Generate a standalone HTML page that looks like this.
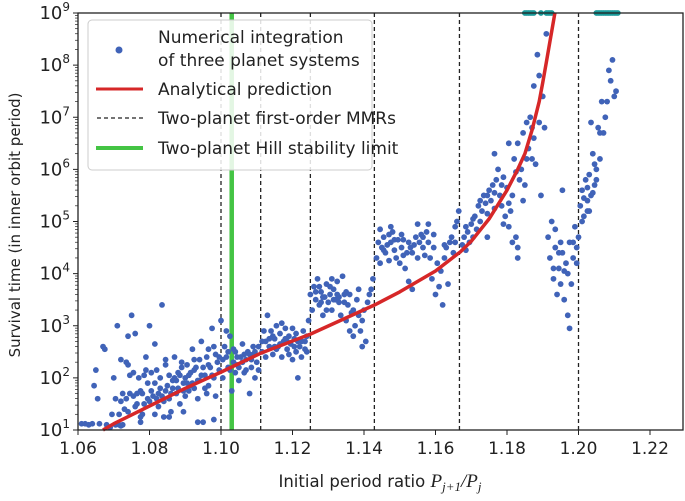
<!DOCTYPE html>
<html><head><meta charset="utf-8"><style>
body{margin:0;background:#fff;width:685px;height:496px;overflow:hidden}
svg text{font-family:"DejaVu Sans","Liberation Sans",sans-serif}
</style></head><body>
<svg id="chart" width="685" height="496" viewBox="0 0 685 496" xmlns="http://www.w3.org/2000/svg">
<g id="grid"></g>
<g id="pts"></g>
<g id="curve"></g>
<rect x="78" y="13" width="605" height="417" fill="none" stroke="#222" stroke-width="1.3"/>
<g id="axes"></g>
<text x="380" y="487" text-anchor="middle" font-size="16.5" fill="#222">Initial period ratio <tspan font-family="Liberation Serif,serif" font-style="italic" font-size="19">P</tspan><tspan font-family="Liberation Serif,serif" font-style="italic" font-size="13" dy="4">j+1</tspan><tspan font-family="Liberation Serif,serif" font-style="italic" font-size="19" dy="-4">/P</tspan><tspan font-family="Liberation Serif,serif" font-style="italic" font-size="13" dy="4">j</tspan></text>
<text transform="translate(20,225) rotate(-90)" text-anchor="middle" font-size="15" fill="#222">Survival time (in inner orbit period)</text>
<g>
<rect x="88" y="20" width="284" height="150" rx="4" fill="#fff" fill-opacity="0.85" stroke="#ccc"/>
<circle cx="119" cy="50" r="3.5" fill="#4063b8"/>
<text x="158" y="43" font-size="17" fill="#222">Numerical integration</text>
<text x="158" y="66" font-size="17" fill="#222">of three planet systems</text>
<line x1="96" y1="89" x2="143" y2="89" stroke="#d62728" stroke-width="3"/>
<text x="158" y="95" font-size="17" fill="#222">Analytical prediction</text>
<line x1="97" y1="118" x2="143" y2="118" stroke="#222" stroke-width="1.3" stroke-dasharray="4,3"/>
<text x="158" y="124" font-size="17" fill="#222">Two-planet first-order MMRs</text>
<line x1="96" y1="148" x2="143" y2="148" stroke="#44c444" stroke-width="4"/>
<text x="158" y="154" font-size="17" fill="#222">Two-planet Hill stability limit</text>
</g>
</svg>
<script>
const xTicks=[1.06,1.08,1.10,1.12,1.14,1.16,1.18,1.20,1.22];
const xTickLabels=["1.06","1.08","1.10","1.12","1.14","1.16","1.18","1.20","1.22"];
const yTicks=[1,2,3,4,5,6,7,8,9];
const mmrRatios=[1.1,1.1111,1.125,1.1429,1.1667,1.2];
const hillLimit=1.103;
const curveX=[1.067,1.07,1.08,1.09,1.10,1.111,1.125,1.143,1.15,1.16,1.167,1.17,1.175,1.18,1.183,1.185,1.187,1.189,1.19,1.191,1.192,1.1926,1.1934];
const curveLog=[1.0,1.12,1.46,1.8,2.11,2.47,2.84,3.4,3.65,4.05,4.42,4.62,5.05,5.6,6.0,6.3,6.75,7.3,7.66,8.05,8.45,8.68,9.0];
const tealX=[1.185,1.1855,1.186,1.1865,1.187,1.1875,1.1895,1.191,1.1915,1.192,1.1925,1.205,1.2055,1.206,1.2065,1.207,1.2075,1.208,1.2085,1.209,1.2095,1.21,1.2105,1.211];
const simPoints=[[1.061,1.12],[1.062,1.12],[1.063,1.1],[1.064,1.12],[1.0645,1.85],[1.065,2.15],[1.0655,1.6],[1.066,1.12],[1.067,2.6],[1.0675,2.55],[1.068,1.1],[1.069,1.05],[1.0695,1.3],[1.070,2.0],[1.0705,1.6],[1.071,3.0],[1.0715,1.3],[1.072,2.35],[1.0725,1.7],[1.073,1.4],[1.0735,2.3],[1.074,2.8],[1.0745,1.7],[1.075,3.2],[1.0755,2.1],[1.076,2.85],[1.0765,1.5],[1.077,2.0],[1.0775,1.25],[1.078,1.7],[1.0785,2.05],[1.079,2.4],[1.0795,1.9],[1.080,3.0],[1.0805,2.1],[1.081,1.65],[1.0815,2.65],[1.082,2.15],[1.0825,1.45],[1.083,2.0],[1.0835,3.4],[1.084,1.25],[1.0845,2.35],[1.085,1.85],[1.0855,2.05],[1.086,1.35],[1.0865,1.95],[1.087,2.4],[1.0875,1.7],[1.088,2.1],[1.0885,1.5],[1.089,2.3],[1.0895,1.9],[1.090,2.0],[1.0905,2.25],[1.091,1.75],[1.0915,2.1],[1.092,2.55],[1.0925,1.8],[1.093,2.2],[1.0935,1.6],[1.094,2.35],[1.0945,2.7],[1.095,1.15],[1.0955,2.05],[1.096,2.4],[1.0965,1.85],[1.097,2.2],[1.0975,2.95],[1.098,2.6],[1.0985,1.65],[1.099,2.3],[1.0995,2.15],
[1.072,1.55],[1.074,1.35],[1.076,1.45],[1.078,1.3],[1.080,1.55],[1.082,1.6],[1.084,1.55],[1.086,1.7],[1.088,1.8],[1.090,1.65],[1.092,1.9],[1.094,1.95],[1.096,1.7],[1.098,2.0],[1.083,1.8],[1.087,2.0],[1.091,2.05],[1.095,2.2],[1.0985,2.45],
[1.0705,1.1],[1.071,1.12],[1.0715,1.1],[1.072,1.08],[1.0725,1.1],[1.0735,1.6],[1.0745,2.05],[1.0755,1.65],[1.0765,1.7],[1.0775,1.75],[1.0785,1.5],[1.0795,1.6],[1.0805,1.75],[1.0815,1.9],[1.0825,1.7],[1.0835,1.65],[1.0845,1.75],[1.0855,1.6],[1.0865,1.8],[1.0875,1.95],[1.0885,2.05],[1.0895,1.75],[1.0905,1.9],[1.0915,1.85],[1.0925,2.15],[1.0935,1.95],[1.0945,2.05],[1.0955,1.8],[1.0965,2.25],[1.0975,2.05],[1.0995,2.4],[1.0775,1.15],[1.0815,1.3],[1.0855,1.25],[1.0895,1.35],[1.0935,1.15],[1.098,1.2],[1.074,2.25],[1.079,2.15],[1.0845,2.25],[1.089,2.2],[1.0925,2.35],[1.0965,2.55],
[1.1,3.1],[1.1005,2.0],[1.101,2.6],[1.1015,2.4],[1.102,2.2],[1.1025,2.8],[1.103,1.75],[1.1035,2.3],[1.104,2.5],[1.1045,2.25],[1.105,1.95],[1.1055,2.4],[1.106,2.65],[1.1065,2.1],[1.107,2.35],[1.1075,2.5],[1.108,1.7],[1.1085,2.2],[1.109,2.45],[1.1095,2.0],[1.110,2.3],[1.1105,2.6],[1.1015,2.9],[1.1035,2.55],[1.106,2.3],[1.108,2.45],[1.104,2.1],[1.109,2.6],
[1.1005,2.35],[1.1025,2.15],[1.1045,2.4],[1.1065,2.45],[1.1085,2.35],[1.1105,2.15],[1.102,2.5],[1.105,2.2],[1.107,2.15],[1.1095,2.5],
[1.1115,2.5],[1.112,2.9],[1.1125,2.7],[1.113,3.2],[1.1135,2.6],[1.114,2.9],[1.1145,2.45],[1.115,2.75],[1.1155,3.0],[1.116,2.6],[1.1165,2.85],[1.117,2.4],[1.1175,2.7],[1.118,2.95],[1.1185,2.55],[1.119,2.8],[1.1195,2.65],[1.120,2.35],[1.1205,2.75],[1.121,2.5],[1.1215,2.0],[1.122,2.6],[1.1225,2.4],[1.123,2.9],[1.1235,2.7],[1.124,2.5],[1.1245,3.1],[1.1125,2.4],[1.1145,2.8],[1.117,3.05],[1.12,2.95],[1.1225,2.7],[1.1155,2.55],[1.119,2.45],[1.121,2.85],
[1.1135,2.75],[1.1165,2.65],[1.1185,2.7],[1.1205,2.6],[1.1235,2.55],[1.1115,2.7],[1.115,2.6],[1.118,2.75],[1.1215,2.7],[1.124,2.8],
[1.125,3.6],[1.1255,3.3],[1.126,3.75],[1.1265,3.5],[1.127,3.9],[1.1275,3.4],[1.128,3.65],[1.1285,3.2],[1.129,3.55],[1.1295,3.8],[1.130,3.45],[1.1305,3.6],[1.131,3.3],[1.1315,3.7],[1.132,3.5],[1.1325,3.85],[1.133,3.55],[1.1335,3.2],[1.134,3.95],[1.1345,3.6],[1.135,3.1],[1.1355,3.4],[1.136,2.9],[1.1365,3.25],[1.137,2.8],[1.1375,3.0],[1.138,3.5],[1.1385,3.2],[1.139,2.9],[1.1395,2.6],[1.140,3.3],[1.1405,2.7],[1.141,3.45],[1.1415,3.6],[1.142,3.7],[1.1425,3.9],[1.1275,3.75],[1.131,3.9],[1.133,3.45],[1.136,3.6],[1.1385,3.7],[1.1295,3.3],
[1.1265,3.65],[1.1285,3.55],[1.1305,3.75],[1.1325,3.6],[1.1345,3.45],[1.137,3.3],[1.1395,3.1],[1.128,3.45],[1.1315,3.5],[1.135,3.65],
[1.1435,4.3],[1.144,4.6],[1.1445,4.2],[1.145,4.5],[1.1455,4.7],[1.146,4.4],[1.1465,4.55],[1.147,4.25],[1.1475,4.6],[1.148,4.8],[1.1485,4.45],[1.149,4.3],[1.1495,4.65],[1.150,4.2],[1.1505,4.5],[1.151,4.35],[1.1515,4.1],[1.152,4.4],[1.1525,3.85],[1.153,4.5],[1.1535,3.7],[1.154,4.55],[1.1545,4.7],[1.155,4.3],[1.1555,4.6],[1.156,4.75],[1.1565,4.5],[1.157,4.35],[1.1575,4.8],[1.158,4.6],[1.1585,4.3],[1.159,3.9],[1.1595,4.5],[1.160,3.6],[1.1605,4.2],[1.161,3.75],[1.1615,4.05],[1.162,3.4],[1.1625,4.3],[1.163,4.5],[1.1635,3.8],[1.164,4.6],[1.1645,4.7],[1.165,4.4],[1.1655,4.9],[1.166,5.0],[1.1665,5.2],[1.1445,4.85],[1.1475,4.9],[1.151,4.65],[1.155,4.95],[1.158,4.95],
[1.1455,4.45],[1.1485,4.65],[1.1505,4.75],[1.1535,4.4],[1.1565,4.7],[1.1595,4.75],[1.1625,4.55],[1.1655,4.6],[1.147,4.75],[1.1525,4.6],
[1.1675,4.55],[1.168,4.7],[1.1685,4.45],[1.169,4.8],[1.1695,4.6],[1.170,4.95],[1.1705,4.7],[1.171,5.1],[1.1715,4.85],[1.172,5.3],[1.1725,5.0],[1.173,5.2],[1.1735,5.5],[1.174,5.35],[1.1745,5.15],[1.175,5.6],[1.1755,5.4],[1.176,5.7],[1.1765,5.25],[1.177,5.8],[1.1775,6.0],[1.178,5.5],[1.1785,5.3],[1.179,5.85],[1.1795,5.1],[1.180,5.65],[1.1805,4.9],[1.181,5.2],[1.1815,5.5],[1.182,6.2],[1.1825,4.7],[1.183,4.5],[1.183,6.5],[1.1835,5.8],[1.184,6.0],[1.1845,6.7],[1.185,5.7],[1.1855,6.9],[1.186,6.4],[1.1865,7.0],[1.187,6.2],[1.1875,7.6],[1.188,6.1],[1.1885,8.2],[1.189,6.9],[1.1895,5.5],[1.190,7.4],[1.1905,6.8],[1.191,8.6],[1.1765,6.3],[1.1745,4.7],[1.1805,6.5],[1.1845,5.4],[1.187,6.8],[1.189,7.8],[1.179,4.95],[1.1815,4.6],[1.183,4.3],
[1.1685,4.9],[1.1705,5.05],[1.1725,5.4],[1.1745,5.5],[1.1765,5.55],[1.1785,5.7],[1.1805,5.35],[1.1825,5.95],[1.1855,6.2],[1.1875,6.6],
[1.1915,4.7],[1.192,4.3],[1.1925,5.0],[1.193,3.9],[1.1935,4.5],[1.194,3.6],[1.1945,4.1],[1.195,3.8],[1.1955,4.4],[1.196,3.5],[1.1965,4.2],[1.197,3.2],[1.1975,4.6],[1.198,3.8],[1.1985,4.3],[1.199,4.9],[1.1995,4.5],[1.2,4.7],[1.193,4.1],[1.195,4.6],[1.197,4.0],[1.1975,2.95],[1.1955,5.6],[1.1935,4.85],
[1.196,4.05],[1.1985,4.6],[1.1995,4.2],[1.1945,4.4],
[1.2005,5.3],[1.201,5.6],[1.2015,5.1],[1.202,5.8],[1.2025,5.4],[1.203,5.9],[1.2035,5.5],[1.204,6.3],[1.2045,5.7],[1.205,6.0],[1.2055,6.8],[1.206,6.2],[1.2065,7.3],[1.207,6.7],[1.2075,7.0],[1.208,7.3],[1.2085,7.9],[1.209,7.7],[1.2095,8.1],[1.210,7.4],[1.2105,7.5],[1.201,5.0],[1.203,5.2],[1.2045,6.1],[1.206,6.7],[1.2035,6.9],
[1.2015,5.45],[1.2025,5.65],[1.204,5.55],[1.205,5.8],[1.2025,5.2]];

const NS='http://www.w3.org/2000/svg';
const X0=78,X1=683,Y0=430,Y1=13;
function sx(v){return X0+(v-1.06)/(0.16)*572;}
function sy(l){return Y0-(l-1)/8*(Y0-Y1);}
function mk(tag,attrs,parent){const e=document.createElementNS(NS,tag);for(const k in attrs)e.setAttribute(k,attrs[k]);parent.appendChild(e);return e;}
const grid=document.getElementById('grid'),pts=document.getElementById('pts'),curve=document.getElementById('curve'),axes=document.getElementById('axes');
mmrRatios.forEach(r=>{const l=mk('line',{x1:sx(r),x2:sx(r),y1:Y1,y2:Y0,stroke:'#222','stroke-width':1.3,'stroke-dasharray':'4,3'},grid);

});
const h=mk('line',{x1:sx(hillLimit),x2:sx(hillLimit),y1:Y1,y2:Y0,stroke:'#44c444','stroke-width':4.5},grid);


simPoints.forEach(p=>{const c=mk('circle',{cx:sx(p[0]),cy:sy(p[1]),r:2.9,fill:'#4063b8'},pts);

});
tealX.forEach(x=>{const c=mk('circle',{cx:sx(x),cy:sy(9),r:2.9,fill:'#1a9a9a'},pts);

});
let d='';curveX.forEach((x,i)=>{d+=(i?'L':'M')+sx(x).toFixed(1)+','+sy(curveLog[i]).toFixed(1);});
const cp=mk('path',{d:d,fill:'none',stroke:'#d62728','stroke-width':3.5,'stroke-linejoin':'round'},curve);


xTicks.forEach((t,i)=>{mk('line',{x1:sx(t),x2:sx(t),y1:Y0,y2:Y0+5,stroke:'#222'},axes);
const tx=mk('text',{x:sx(t),y:Y0+24,'text-anchor':'middle','font-size':17,fill:'#222','font-family':'Liberation Serif,serif'},axes);
tx.textContent=xTickLabels[i];

});
yTicks.forEach(t=>{const y=sy(t);mk('line',{x1:X0-5,x2:X0,y1:y,y2:y,stroke:'#222'},axes);
if(t<9){for(let k=2;k<10;k++){const yy=sy(t+Math.log10(k));mk('line',{x1:X0-3,x2:X0,y1:yy,y2:yy,stroke:'#222','stroke-width':0.7},axes);}}
const tx=mk('text',{x:X0-8,y:y+6,'text-anchor':'end','font-size':18,fill:'#222','font-family':'Liberation Serif,serif'},axes);
tx.innerHTML='10<tspan dy="-8" font-size="12">'+t+'</tspan>';

});
</script>
</body></html>
